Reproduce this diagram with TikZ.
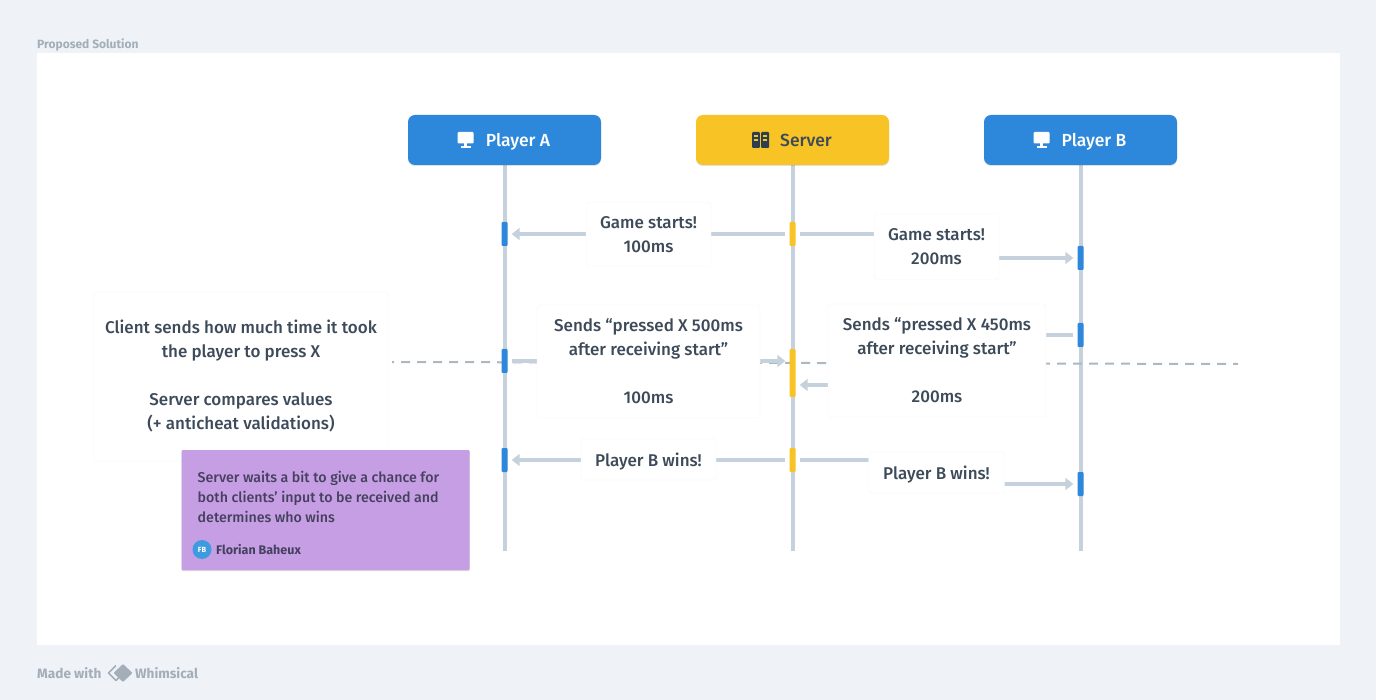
\documentclass[tikz,border=0pt]{standalone}
\usepackage{fontspec}
\setmainfont{Fira Sans Medium}[BoldFont=Fira Sans Bold]
\usetikzlibrary{arrows.meta,shadows,backgrounds}
\definecolor{pagebg}{HTML}{EFF3F7}
\definecolor{lifeline}{HTML}{C5D2DE}
\definecolor{dashline}{HTML}{AAB8C4}
\definecolor{playerblue}{HTML}{2D87DB}
\definecolor{serveryellow}{HTML}{F8C325}
\definecolor{inktext}{HTML}{3D4A59}
\definecolor{darkicon}{HTML}{2C3E50}
\definecolor{mutedtext}{HTML}{A3AEB9}
\definecolor{notepurple}{HTML}{C69EE3}
\definecolor{noteink}{HTML}{45405F}
\definecolor{avatarblue}{HTML}{3F9BE0}
\tikzset{
    header/.style={rounded corners=7pt, minimum width=193pt, minimum height=50pt, inner sep=0pt,
        text height=14pt, text depth=0pt, font=\fontsize{17.5}{20}\selectfont,
        general shadow={fill=black, opacity=.12, shadow yshift=-1pt}},
    playerbox/.style={header, fill=playerblue, text=white},
    serverbox/.style={header, fill=serveryellow, text=inktext},
    bluebar/.style={fill=playerblue, rounded corners=1pt, minimum width=6pt, inner sep=0pt},
    yellowbar/.style={fill=serveryellow, rounded corners=1pt, minimum width=6pt, inner sep=0pt},
    textbox/.style={fill=white, draw=black!3, rounded corners=3pt, align=center, inner sep=0pt, text=inktext,
        font=\fontsize{17}{24}\selectfont},
    winbox/.style={textbox, minimum height=41pt, text height=14pt, text depth=0pt},
    life/.style={draw=lifeline, line width=4pt},
    msg/.style={draw=lifeline, line width=3.5pt},
    msgtip/.style={msg, -{Triangle[length=8pt,width=12pt]}, shorten >=4pt, shorten <=4pt},
    monitor/.pic={
        \fill[white, rounded corners=1pt] (-8,-8) rectangle (8,3.5);
        \fill[white] (-1.8,3.5) rectangle (1.8,6);
        \fill[white] (-5,6) rectangle (5,8);
    },
    rack/.pic={
        \fill[darkicon, rounded corners=1pt] (-8.5,-8) rectangle (-0.7,8);
        \fill[darkicon, rounded corners=1pt] (0.7,-8) rectangle (8.5,8);
        \fill[serveryellow] (-6.3,-5) rectangle (-2.9,-3.2);
        \fill[serveryellow] (2.9,-5) rectangle (6.3,-3.2);
        \fill[serveryellow] (-6.3,-1) rectangle (-2.9,0.8);
        \fill[serveryellow] (2.9,-1) rectangle (6.3,0.8);
    }
}
\begin{document}
\begin{tikzpicture}[x=1pt, y=-1pt]
    \useasboundingbox (0,0) rectangle (1376,700);
    \begin{scope}[on background layer]
        \fill[pagebg] (0,0) rectangle (1376,700);
        \fill[white] (37,53) rectangle (1340,645);
    \end{scope}
    \node[anchor=west, text=mutedtext, inner sep=0pt, font=\fontsize{12}{14}\selectfont\bfseries] (title) at (37,44.5) {Proposed Solution};

    \node[playerbox] (pa) at (504.5,140) {\hspace{27pt}Player A};
    \node[serverbox] (sv) at (792.5,140) {\hspace{27pt}Server};
    \node[playerbox] (pb) at (1080.5,140) {\hspace{27pt}Player B};
    \pic at ([xshift=-39pt]pa.center) {monitor};
    \pic at ([xshift=-32pt]sv.center) {rack};
    \pic at ([xshift=-39pt]pb.center) {monitor};

    \coordinate (paend) at (504.5,551);
    \coordinate (svend) at (792.5,551);
    \coordinate (pbend) at (1080.5,551);
    \coordinate (dashstart) at (392,362);
    \coordinate (dashend) at (1238,364);

    \node[bluebar, minimum height=24pt] (pa1) at (504.5,234) {};
    \node[yellowbar, minimum height=24pt] (sv1) at (792.5,234) {};
    \node[bluebar, minimum height=24pt] (pb1) at (1080.5,258) {};
    \node[bluebar, minimum height=24pt] (pa2) at (504.5,361) {};
    \node[yellowbar, minimum height=48pt] (sv2) at (792.5,373) {};
    \node[bluebar, minimum height=24pt] (pb2) at (1080.5,335) {};
    \node[bluebar, minimum height=24pt] (pa3) at (504.5,460) {};
    \node[yellowbar, minimum height=24pt] (sv3) at (792.5,460) {};
    \node[bluebar, minimum height=24pt] (pb3) at (1080.5,484) {};

    \node[textbox, minimum width=125pt, minimum height=64pt] (start1) at (648.5,234.5) {Game starts!\\100ms};
    \node[textbox, minimum width=125pt, minimum height=66pt] (start2) at (936.5,246.5) {Game starts!\\200ms};
    \node[textbox, minimum width=223pt, minimum height=113pt] (send1) at (648.5,361.5) {Sends “pressed X 500ms\\after receiving start”\\[24pt]100ms};
    \node[textbox, minimum width=218pt, minimum height=113pt] (send2) at (937,360.5) {Sends “pressed X 450ms\\after receiving start”\\[24pt]200ms};
    \node[winbox, minimum width=135pt] (win1) at (648.5,459.5) {Player B wins!};
    \node[winbox, minimum width=136pt] (win2) at (936.5,472.5) {Player B wins!};
    \node[textbox, minimum width=294pt, minimum height=169pt] (compare) at (241,376.5) {Client sends how much time it took\\the player to press X\\[24pt]Server compares values\\(+ anticheat validations)};

    \begin{scope}[on background layer]
        \draw[life] (pa) -- (paend);
        \draw[life] (sv) -- (svend);
        \draw[life] (pb) -- (pbend);
        \draw[dashline, line width=2pt, dash pattern=on 9pt off 7pt, dash phase=7pt] (dashstart) -- (dashend);
        \draw[msgtip] (sv1.west) -- (pa1.east);
        \draw[msgtip] (sv1.east) -| (start2.center) |- (pb1.west);
        \draw[msgtip] (pa2.east) -- (pa2.east -| sv2.west);
        \draw[msgtip] (pb2.west) -| (send2.center) |- ([yshift=-12pt]sv2.east);
        \draw[msgtip] (sv3.west) -- (pa3.east);
        \draw[msgtip] (sv3.east) -| (win2.center) |- (pb3.west);
    \end{scope}

    \node[fill=notepurple, minimum width=288pt, minimum height=120pt, inner sep=0pt, rounded corners=1pt,
        general shadow={fill=black, opacity=.15, shadow yshift=-1pt}] (note) at (325.5,510) {};
    \node[anchor=north west, inner sep=0pt, align=left, text=noteink, font=\fontsize{14.2}{20}\selectfont] (notetext) at (197.5,471) {Server waits a bit to give a chance for\\both clients’ input to be received and\\determines who wins};
    \node[circle, fill=avatarblue, minimum size=19pt, inner sep=0pt, text=white, font=\fontsize{7.5}{8}\selectfont\bfseries] (avatar) at (202,549.5) {FB};
    \node[anchor=west, inner sep=0pt, text=noteink, font=\fontsize{12.5}{14}\selectfont\bfseries] (author) at (216,549.5) {Florian Baheux};

    \node[anchor=west, inner sep=0pt, text=mutedtext, font=\fontsize{13.6}{15}\selectfont\bfseries] (made) at (37,673) {Made with};
    \draw[mutedtext, line width=1.6pt, line join=round] (116,665.5) -- (108.5,673) -- (116,680.5) -- (120,676.5);
    \fill[mutedtext, rounded corners=1pt] (123,664) -- (132.5,673) -- (123,682) -- (113.5,673) -- cycle;
    \node[anchor=west, inner sep=0pt, text=mutedtext, font=\fontsize{13.6}{15}\selectfont\bfseries] (brand) at (135,673) {Whimsical};
\end{tikzpicture}
\end{document}
